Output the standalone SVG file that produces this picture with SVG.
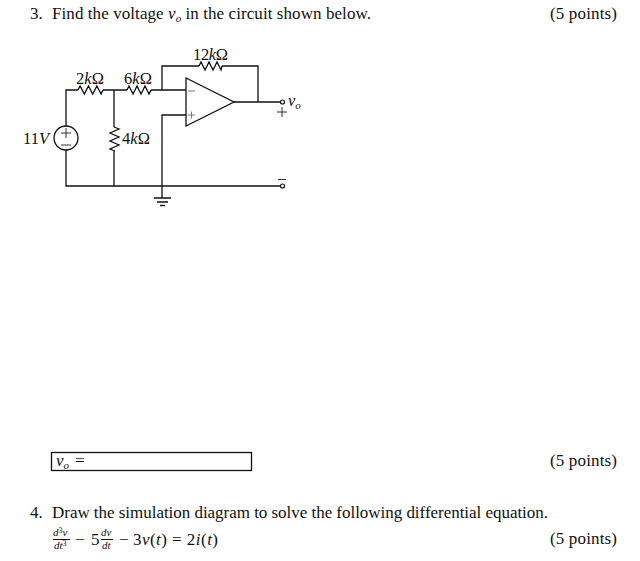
<svg xmlns="http://www.w3.org/2000/svg" width="640" height="561" viewBox="0 0 640 561">
<style>
text{font-family:"Liberation Serif","DejaVu Serif",serif;fill:#111;font-size:17px}
.i{font-style:italic}
.s{font-size:11px}
.m{font-size:16.500px}
.w{fill:none;stroke:#111;stroke-width:1.3}
.p{fill:none;stroke:#333;stroke-width:1}
</style>
<rect width="640" height="561" fill="#fff"/>
<g id="question-3">
<text x="30" y="19">3.</text>
<text x="52" y="19" textLength="319" lengthAdjust="spacing">Find the voltage <tspan class="i">v</tspan><tspan class="i s" dy="3">o</tspan><tspan dy="-3"> in the circuit shown below.</tspan></text>
<text x="550" y="19" textLength="67" lengthAdjust="spacing">(5 points)</text>
</g>
<g id="connectors">
<path class="w" d="M66 126V90H78M103 90H127M151 90H186M114 90V127M114 151V186M66 150V186H282M162 90V66H199M222 66H258V102M186 115H162V198M234 102H280"/>
<path class="w" d="M78 90l2.1-4 4.2 8 4.2-8 4.2 8 4.2-8 4.2 8 1.9-4"/>
<path class="w" d="M127 90l2-4 4 8 4-8 4 8 4-8 4 8 2-4"/>
<path class="w" d="M199 66l2-4 4 8 4-8 4 8 4-8 4 8 1-4"/>
<path class="w" d="M114 127l5 2-9 4 9 4-9 4 9 4-9 4 5 2"/>
</g>
<g id="source"><circle class="w" cx="66" cy="138" r="12"/><path class="p" d="M61 133H71M66 128V138M61 145H71"/><text class="m" x="23" y="144" textLength="26" lengthAdjust="spacing">11<tspan class="i">V</tspan></text></g>
<g id="r-2k"><text class="m" x="76" y="84" textLength="28" lengthAdjust="spacing">2<tspan class="i">k</tspan>Ω</text></g>
<g id="r-6k"><text class="m" x="124" y="84" textLength="28" lengthAdjust="spacing">6<tspan class="i">k</tspan>Ω</text></g>
<g id="r-4k"><text class="m" x="122" y="144" textLength="28" lengthAdjust="spacing">4<tspan class="i">k</tspan>Ω</text></g>
<g id="r-12k"><text class="m" x="193" y="60" textLength="35" lengthAdjust="spacing">12<tspan class="i">k</tspan>Ω</text></g>
<g id="opamp"><path d="M186 78V126L234 102Z" fill="#fff" stroke="#111" stroke-width="1.3"/><path d="M188 91H195M188 115H195M191.500 111.500V118.500" fill="none" stroke="#777"/></g>
<g id="ground"><path class="w" d="M154 198H171M157 202H168M160 205.500H165"/></g>
<g id="out-plus"><circle cx="282.500" cy="102" r="2" fill="#fff" stroke="#111" stroke-width="1.200"/><text class="i m" x="288" y="106">v<tspan class="s" dy="3">o</tspan></text><path class="p" d="M277 112H287M282 107V117"/></g>
<g id="out-minus"><circle cx="282.500" cy="186" r="2" fill="#fff" stroke="#111" stroke-width="1.200"/><path class="p" d="M278 179.500H286"/></g>
<g id="answer-box"><rect x="51.500" y="452.500" width="200" height="18" fill="#fff" stroke="#111" stroke-width="1.300"/><text class="i" x="56" y="466">v<tspan class="s" dy="3">o</tspan></text><text x="75" y="466" font-size="18">=</text></g>
<g id="points-3b"><text x="550" y="466" textLength="67" lengthAdjust="spacing">(5 points)</text></g>
<g id="question-4">
<text x="30" y="518">4.</text>
<text x="52" y="518" textLength="496" lengthAdjust="spacing">Draw the simulation diagram to solve the following differential equation.</text>
<text class="s i" x="53" y="536">d<tspan font-size="8" dy="-3" font-style="normal">3</tspan><tspan dy="3">v</tspan></text>
<path d="M53 539.500H70M101 539.500H113" stroke="#111" fill="none"/>
<text class="s i" x="54" y="549">dt<tspan font-size="8" dy="-3" font-style="normal">3</tspan></text>
<text x="75" y="545">−</text>
<text x="91" y="545">5</text>
<text class="s i" x="101" y="536">dv</text>
<text class="s i" x="102" y="549">dt</text>
<text x="119" y="545">−</text>
<text x="133" y="545" textLength="85" lengthAdjust="spacing">3<tspan class="i">v</tspan>(<tspan class="i">t</tspan>) = 2<tspan class="i">i</tspan>(<tspan class="i">t</tspan>)</text>
<text x="550" y="544" textLength="67" lengthAdjust="spacing">(5 points)</text>
</g>
</svg>
